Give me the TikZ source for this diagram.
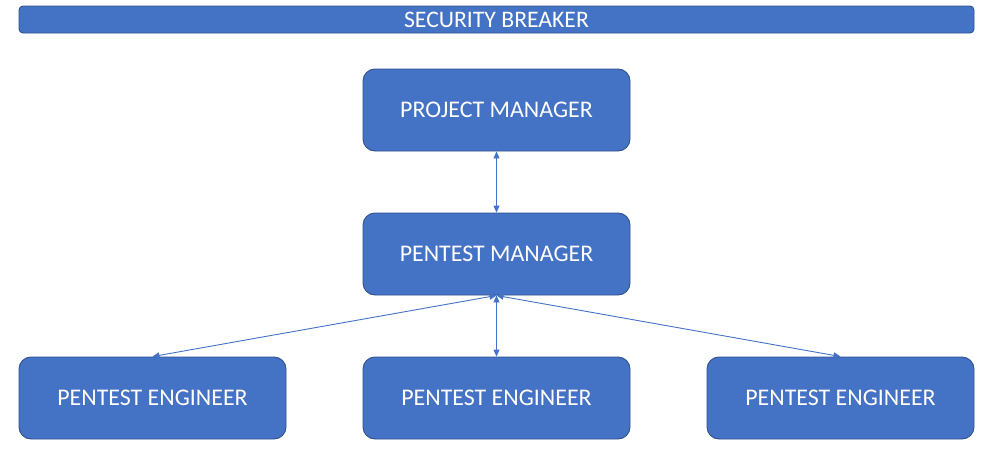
\documentclass[tikz,border=0pt]{standalone}
\usepackage{fontspec}
\setmainfont{Carlito}
\usetikzlibrary{arrows.meta}
\definecolor{boxfill}{HTML}{4472C4}
\definecolor{boxline}{HTML}{2F528F}
\tikzset{
  rolebox/.style={draw=boxline, line width=0.9pt, fill=boxfill, rounded corners=12pt,
    minimum width=267pt, minimum height=82pt, text=white, font=\fontsize{23.9}{26}\selectfont, inner sep=0pt},
  titlebar/.style={draw=boxline, line width=0.9pt, fill=boxfill, rounded corners=4pt,
    minimum width=955pt, minimum height=27pt, text=white, font=\fontsize{23.7}{26}\selectfont, inner sep=0pt},
  link/.style={draw=boxfill, line width=0.9pt, {Triangle[length=7pt,width=6pt]}-{Triangle[length=7pt,width=6pt]}}
}
\begin{document}
\begin{tikzpicture}[x=1pt,y=-1pt]
\useasboundingbox (0,0) rectangle (990,455);
\node[titlebar] (title) at (496.5,19.5) {SECURITY BREAKER};
\node[rolebox] (proj) at (496.5,110) {PROJECT MANAGER};
\node[rolebox] (pent) at (496.5,254) {PENTEST MANAGER};
\node[rolebox] (eng1) at (152.5,398) {PENTEST ENGINEER};
\node[rolebox] (eng2) at (496.5,398) {PENTEST ENGINEER};
\node[rolebox] (eng3) at (840.5,398) {PENTEST ENGINEER};
\draw[link] (proj.south) -- (pent.north);
\draw[link] (pent.south) -- (eng1.north);
\draw[link] (pent.south) -- (eng2.north);
\draw[link] (pent.south) -- (eng3.north);
\end{tikzpicture}
\end{document}
